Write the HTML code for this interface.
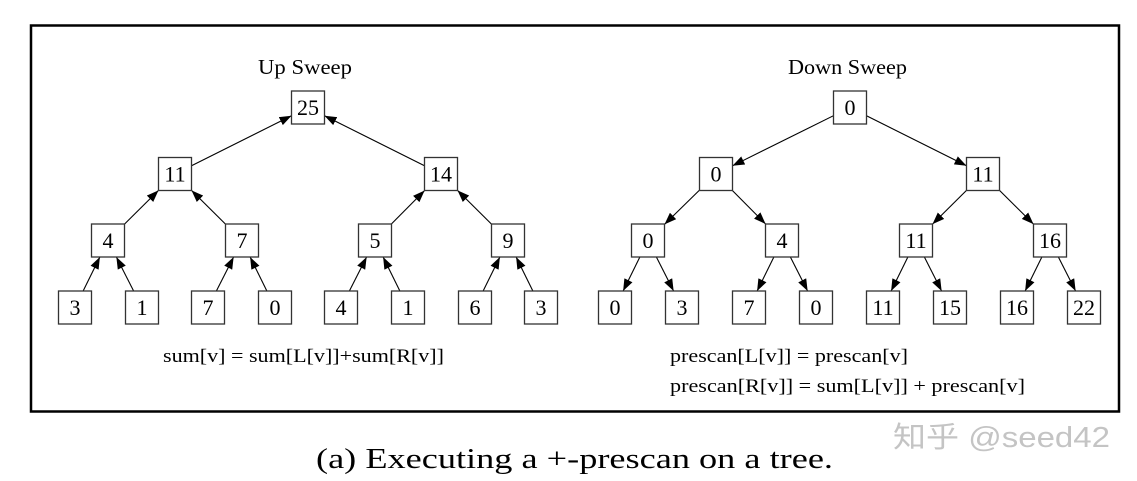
<!DOCTYPE html>
<html><head><meta charset="utf-8"><style>
html,body{margin:0;padding:0;background:#fff;width:1137px;height:481px;overflow:hidden}
svg{display:block}
text{font-family:"Liberation Serif",serif;fill:#000}
</style></head><body>
<svg id="s" width="1137" height="481" viewBox="0 0 1137 481" xmlns="http://www.w3.org/2000/svg">
<defs><marker id="ah" viewBox="0 0 12 9" refX="12" refY="4.5" markerWidth="12" markerHeight="9" markerUnits="userSpaceOnUse" orient="auto"><path d="M0,0L12,4.5L0,9z" fill="#000"/></marker></defs>
<rect x="31" y="25.5" width="1088" height="386" fill="none" stroke="#000" stroke-width="2.5"/>
<text x="258" y="74" font-size="21" textLength="94" lengthAdjust="spacingAndGlyphs">Up Sweep</text>
<text x="788" y="74" font-size="21" textLength="119" lengthAdjust="spacingAndGlyphs">Down Sweep</text>
<text x="163" y="362" font-size="19" textLength="281" lengthAdjust="spacingAndGlyphs">sum[v] = sum[L[v]]+sum[R[v]]</text>
<text x="670" y="362" font-size="19" textLength="238" lengthAdjust="spacingAndGlyphs">prescan[L[v]] = prescan[v]</text>
<text x="670" y="392" font-size="19" textLength="355" lengthAdjust="spacingAndGlyphs">prescan[R[v]] = sum[L[v]] + prescan[v]</text>
<text x="316" y="468" font-size="29" textLength="517" lengthAdjust="spacingAndGlyphs">(a) Executing a +-prescan on a tree.</text>
<text x="893" y="447" font-size="29" style="fill:#c4c4c4;font-family:'Liberation Sans','Noto Sans CJK SC',sans-serif" textLength="217" lengthAdjust="spacingAndGlyphs">知乎 @seed42</text>
<g id="g"></g>
</svg>
<script>
var g=document.getElementById('g'),NS='http://www.w3.org/2000/svg';
var ys=[107.5,174,240.5,307.5],H=16.5,W=16.5;
function box(x,y,t){var r=document.createElementNS(NS,'rect');r.setAttribute('x',x-W);r.setAttribute('y',y-H);r.setAttribute('width',2*W);r.setAttribute('height',2*H);r.setAttribute('fill','#fff');r.setAttribute('stroke','#333');r.setAttribute('stroke-width','1.3');g.appendChild(r);
var s=document.createElementNS(NS,'text');s.setAttribute('x',x);s.setAttribute('y',y+7.5);s.setAttribute('font-size','22');s.setAttribute('text-anchor','middle');s.textContent=t;g.appendChild(s);}
function clip(dx,dy){return Math.min(dx?W/Math.abs(dx):1e9,dy?H/Math.abs(dy):1e9);}
function edge(x1,y1,x2,y2){var dx=x2-x1,dy=y2-y1;var t1=clip(dx,dy),t2=clip(dx,dy);
var l=document.createElementNS(NS,'line');l.setAttribute('x1',x1+dx*t1);l.setAttribute('y1',y1+dy*t1);l.setAttribute('x2',x2-dx*t2);l.setAttribute('y2',y2-dy*t2);l.setAttribute('stroke','#000');l.setAttribute('stroke-width','1.1');l.setAttribute('marker-end','url(#ah)');g.appendChild(l);}
function tree(xs,vals,up){
for(var lv=1;lv<4;lv++){for(var i=0;i<xs[lv].length;i++){var p=Math.floor(i/2);
if(up)edge(xs[lv][i],ys[lv],xs[lv-1][p],ys[lv-1]);else edge(xs[lv-1][p],ys[lv-1],xs[lv][i],ys[lv]);}}
for(var lv=0;lv<4;lv++)for(var i=0;i<xs[lv].length;i++)box(xs[lv][i],ys[lv],vals[lv][i]);}
tree([[308],[175,441],[108,242,375,508],[75,142,208,275,341,408,475,541]],
[['25'],['11','14'],['4','7','5','9'],['3','1','7','0','4','1','6','3']],true);
tree([[850],[716,983],[648,782,916,1050],[615,682,749,816,883,950,1017,1084]],
[['0'],['0','11'],['0','4','11','16'],['0','3','7','0','11','15','16','22']],false);
</script>
</body></html>
